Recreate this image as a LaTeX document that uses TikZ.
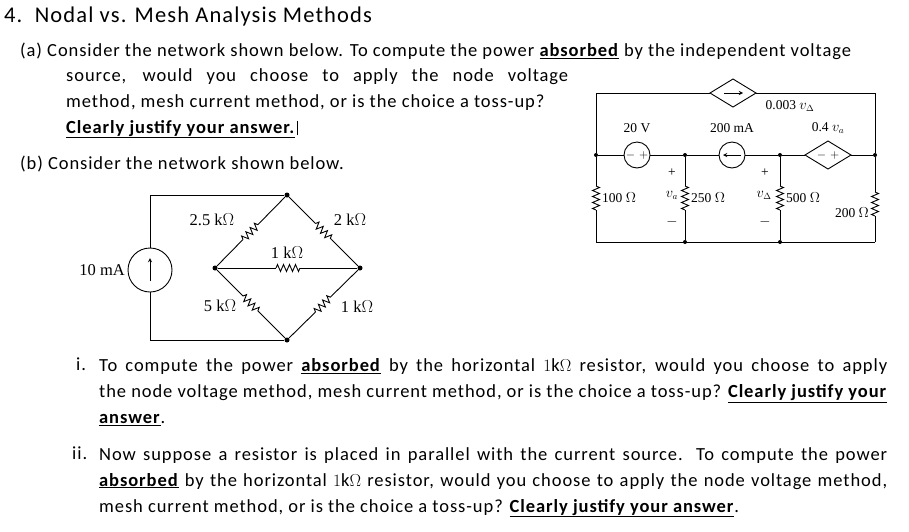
\documentclass[tikz,border=0pt]{standalone}
\usepackage{fontspec}
\setmainfont{Carlito}[LetterSpace=5]
\newfontfamily\cirf{Liberation Serif}
\usetikzlibrary{decorations.pathmorphing,calc}
\tikzset{
 wire/.style={line width=0.9pt},
 zz/.style={wire,decorate,decoration={zigzag,segment length=6pt,amplitude=3.5pt}},
 dot/.style={circle,fill,inner sep=0pt,minimum size=5pt},
 txt/.style={anchor=north west,inner sep=0pt,align=justify,font=\fontsize{18.5}{26}\selectfont},
 lbl/.style={inner sep=0pt,font=\cirf\fontsize{16.5}{16}\selectfont},
 lbls/.style={inner sep=0pt,font=\cirf\fontsize{13.5}{13}\selectfont},
}
\newcommand{\res}[3]{\draw[wire] (#1) -- ($(#1)!0.5!(#2)-#3$); \draw[zz] ($(#1)!0.5!(#2)-#3$) -- ($(#1)!0.5!(#2)+#3$); \draw[wire] ($(#1)!0.5!(#2)+#3$) -- (#2);}
\begin{document}
\begin{tikzpicture}[x=1pt,y=-1pt]
\useasboundingbox (0,0) rectangle (909,531);
% text
\node[anchor=west,inner sep=0pt,font=\fontsize{22.5}{24}\selectfont] (title) at (4,16) {4.\ \ Nodal vs. Mesh Analysis Methods};
\node[txt,text width=867pt] (a1) at (20,43) {(a)\ Consider the network shown below. To compute the power \underline{\textbf{absorbed}} by the independent voltage};
\node[txt,text width=502pt] (a2) at (66,68) {source, would you choose to apply the node voltage\linebreak method, mesh current method, or is the choice a toss-up?\par\noindent\underline{\textbf{Clearly justify your answer.}}\hspace{2pt}\rule[-2pt]{0.6pt}{14pt}};
\node[txt] (b1) at (20,156) {(b)\ Consider the network shown below.};
\node[txt] (ri) at (76,358) {i.};
\node[txt,text width=788pt] (ti) at (99,358) {To compute the power \underline{\textbf{absorbed}} by the horizontal $1\mathrm{k}\Omega$ resistor, would you choose to apply\linebreak the node voltage method, mesh current method, or is the choice a toss-up? \underline{\textbf{Clearly justify your}}\linebreak \underline{\textbf{answer}}.};
\node[txt] (rii) at (72,447) {ii.};
\node[txt,text width=788pt] (tii) at (99,447) {Now suppose a resistor is placed in parallel with the current source. To compute the power\linebreak \underline{\textbf{absorbed}} by the horizontal $1\mathrm{k}\Omega$ resistor, would you choose to apply the node voltage method,\linebreak mesh current method, or is the choice a toss-up? \underline{\textbf{Clearly justify your answer}}.};
% circuit b
\coordinate (tl) at (150,195); \coordinate (bl) at (150,340);
\node[dot] (T) at (287,195) {}; \node[dot] (B) at (287,340) {};
\node[dot] (L) at (215,268) {}; \node[dot] (R) at (360,268) {};
\node[circle,draw,wire,minimum size=44pt,inner sep=0pt] (src) at (150,270) {};
\draw[wire] (src.north) -- (tl) -- (T);
\draw[wire] (src.south) -- (bl) -- (B);
\draw[wire,-stealth] (150,281) -- (150,258);
\res{L}{T}{(8,-8)}
\res{T}{R}{(8,8)}
\draw[wire] (L) -- (276,268); \draw[zz] (276,268) -- (300,268); \draw[wire] (300,268) -- (R);
\res{L}{B}{(8,8)}
\res{B}{R}{(8,-8)}
\node[lbl] (l1) at (212,220) {2.5 k$\Omega$};
\node[lbl] (l2) at (350,220) {2 k$\Omega$};
\node[lbl] (l3) at (287,253) {1 k$\Omega$};
\node[lbl] (l4) at (220,306) {5 k$\Omega$};
\node[lbl] (l5) at (357,307) {1 k$\Omega$};
\node[lbl,anchor=east] (l6) at (125,270) {10 mA};
% circuit a
\coordinate (A1) at (596,93); \coordinate (A2) at (875,93);
\coordinate (A3) at (596,242); \coordinate (A4) at (875,242);
\node[dot,minimum size=4pt] (n0) at (596,155) {};
\node[dot,minimum size=4pt] (n1) at (685,155) {};
\node[dot,minimum size=4pt] (n2) at (780,155) {};
\node[dot,minimum size=4pt] (n3) at (875,155) {};
\node[dot,minimum size=4pt] (m1) at (685,242) {};
\node[dot,minimum size=4pt] (m2) at (780,242) {};
\coordinate (d1c) at (733,93);
\draw[wire] (d1c)+(-23,0) -- +(0,-14) -- +(23,0) -- +(0,14) -- cycle;
\draw[wire,-stealth] (724,93) -- (743,93);
\draw[wire] (A1) -- (710,93) (756,93) -- (A2);
\draw[wire] (A1) -- (n0) (A2) -- (n3);
\draw[wire] (A3) -- (A4);
\node[circle,draw,wire,minimum size=26pt,inner sep=0pt] (v20) at (637,155) {};
\node[circle,draw,wire,minimum size=26pt,inner sep=0pt] (i200) at (732,155) {};
\node[inner sep=0pt,font=\fontsize{12}{12}\selectfont] at (637,155) {$-\,\,+$};
\draw[wire,-stealth] (741,155) -- (723,155);
\coordinate (d2c) at (828,155);
\draw[wire] (d2c)+(-23,0) -- +(0,-14) -- +(23,0) -- +(0,14) -- cycle;
\node[inner sep=0pt,font=\fontsize{12}{12}\selectfont] at (828,155) {$-\,\,+$};
\draw[wire] (n0) -- (v20.west) (v20.east) -- (n1) -- (i200.west) (i200.east) -- (n2) -- (805,155) (851,155) -- (n3);
\draw[wire] (n0) -- (596,186); \draw[zz] (596,186) -- (596,210); \draw[wire] (596,210) -- (A3);
\draw[wire] (n1) -- (685,186); \draw[zz] (685,186) -- (685,210); \draw[wire] (685,210) -- (m1);
\draw[wire] (n2) -- (780,186); \draw[zz] (780,186) -- (780,210); \draw[wire] (780,210) -- (m2);
\draw[wire] (n3) -- (875,192); \draw[zz] (875,192) -- (875,216); \draw[wire] (875,216) -- (A4);
\node[lbls] at (790,106) {0.003 $v_\Delta$};
\node[lbls] at (637,128) {20 V};
\node[lbls] at (732,128) {200 mA};
\node[lbls] at (828,128) {0.4 $v_a$};
\node[lbls,anchor=west] at (602,198) {100 $\Omega$};
\node[lbls,anchor=west] at (691,198) {250 $\Omega$};
\node[lbls,anchor=west] at (786,198) {500 $\Omega$};
\node[lbls,anchor=east] at (869,213) {200 $\Omega$};
\node[lbls] at (672,195) {$v_a$}; \node[lbls] at (672,173) {+}; \node[lbls] at (672,222) {$-$};
\node[lbls] at (764,195) {$v_\Delta$}; \node[lbls] at (765,173) {+}; \node[lbls] at (765,222) {$-$};
\end{tikzpicture}
\end{document}
